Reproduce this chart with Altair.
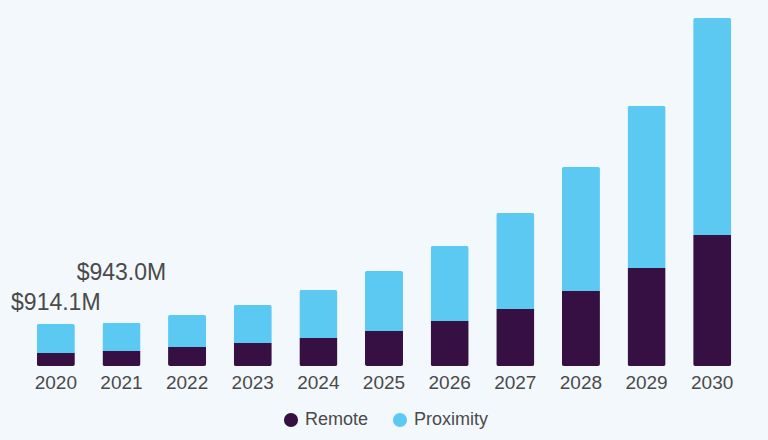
import altair as alt
import pandas as pd

years = ["2020", "2021", "2022", "2023", "2024", "2025", "2026", "2027", "2028", "2029", "2030"]
remote = [283, 326, 414, 500, 610, 762, 980, 1241, 1633, 2134, 2852]
proximity = [631.1, 617.0, 696, 828, 1045, 1306, 1633, 2090, 2699, 3527, 4725]
series = ["Remote", "Proximity"]
colors = ["#361042", "#5BC9F2"]

label_years_low = ["2020"]
label_totals_low = [914.1]
label_texts_low = ["$914.1M"]
label_years_high = ["2021"]
label_totals_high = [943.0]
label_texts_high = ["$943.0M"]

rows = []
for y, r, p in zip(years, remote, proximity):
    rows.append({"year": y, "series": "Remote", "value": r, "rank": 0})
    rows.append({"year": y, "series": "Proximity", "value": p, "rank": 1})
df = pd.DataFrame(rows)

lab_low = pd.DataFrame({"year": label_years_low, "total": label_totals_low, "text": label_texts_low})
lab_high = pd.DataFrame({"year": label_years_high, "total": label_totals_high, "text": label_texts_high})

FONT = "Liberation Sans"
TXT = "#4a4a4a"

xenc = alt.X("year:N", sort=years, title=None,
             scale=alt.Scale(paddingInner=0.42, paddingOuter=0.21),
             axis=alt.Axis(labelAngle=0, ticks=False, domain=False, labelPadding=7,
                           labelFontSize=19, labelColor=TXT, labelFont=FONT, grid=False))
yscale = alt.Scale(domain=[0, 7577], nice=False, zero=True)

bars = alt.Chart(df).mark_bar(cornerRadius=2).encode(
    x=xenc,
    y=alt.Y("value:Q", stack="zero", scale=yscale, axis=None),
    color=alt.Color("series:N", scale=alt.Scale(domain=series, range=colors),
                    legend=alt.Legend(title=None, orient="none", direction="horizontal",
                                      legendX=259, legendY=393, symbolType="circle",
                                      symbolSize=200, symbolStrokeWidth=0,
                                      labelFontSize=18, labelFont=FONT, labelColor=TXT,
                                      columnPadding=22, labelOffset=5, padding=0)),
    order=alt.Order("rank:Q", sort="ascending"),
)

t_low = alt.Chart(lab_low).mark_text(font=FONT, fontSize=23, color=TXT, baseline="alphabetic", dy=-14).encode(
    x=alt.X("year:N", sort=years), y=alt.Y("total:Q", scale=yscale), text="text:N")
t_high = alt.Chart(lab_high).mark_text(font=FONT, fontSize=23, color=TXT, baseline="alphabetic", dy=-43).encode(
    x=alt.X("year:N", sort=years), y=alt.Y("total:Q", scale=yscale), text="text:N")

chart = alt.layer(bars, t_low, t_high).properties(
    width=722, height=348,
    autosize=alt.AutoSizeParams(type="none"),
    padding={"left": 23, "top": 18, "right": 23, "bottom": 74},
    background="#F3F8FC",
).configure_view(stroke=None)

chart.save("out.html", embed_options={"renderer": "svg", "actions": False})
